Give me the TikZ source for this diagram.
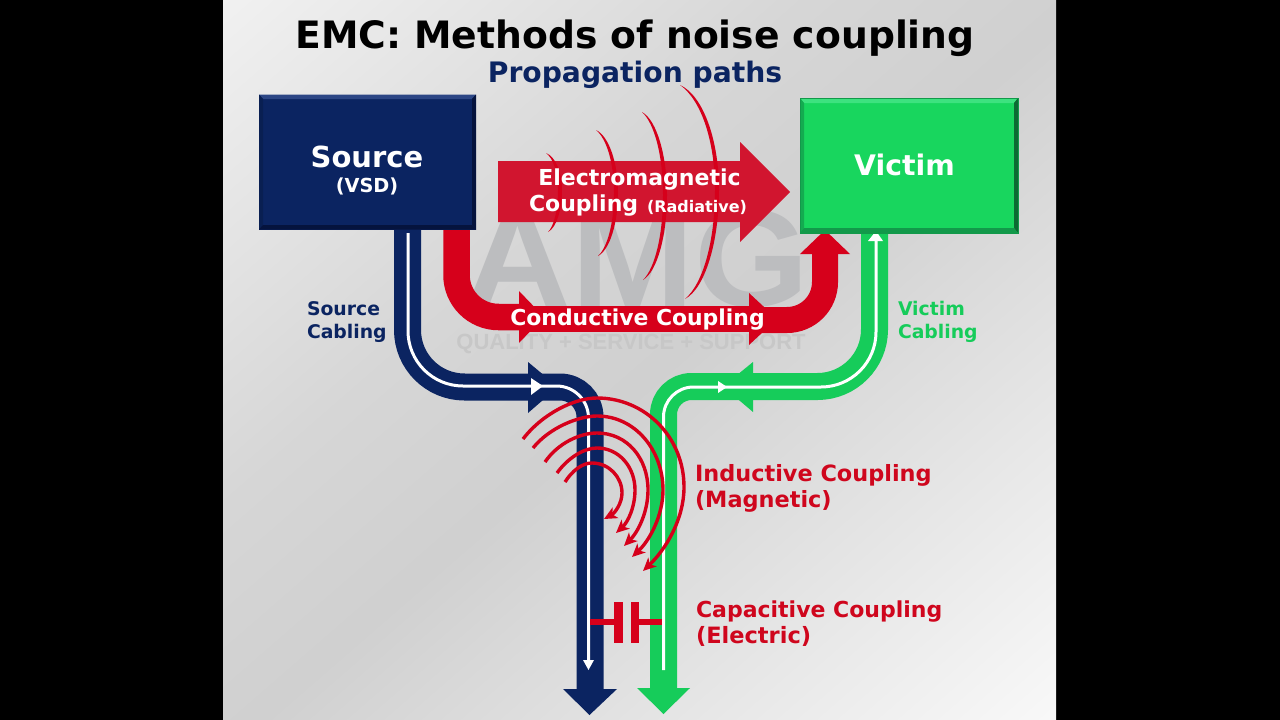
\documentclass[tikz,border=0pt]{standalone}
\usepackage{fontspec}
\setmainfont{DejaVu Sans}
\newfontfamily\wmfont{Liberation Sans}
\usetikzlibrary{arrows.meta,calc}
\definecolor{navy}{HTML}{0B2461}
\definecolor{navyL}{HTML}{2C4685}
\definecolor{navyD}{HTML}{05133D}
\definecolor{grn}{HTML}{18D65E}
\definecolor{grnB}{HTML}{16CC5A}
\definecolor{grnL}{HTML}{3DE27F}
\definecolor{grnD}{HTML}{12994A}
\definecolor{grnDD}{HTML}{0C6A33}
\definecolor{crim}{HTML}{D1152F}
\definecolor{red1}{HTML}{D6001B}
\definecolor{redT}{HTML}{CF061D}
\definecolor{wm}{HTML}{BCBDBF}
\pgfdeclareverticalshading{bgsh}{100bp}{rgb(0bp)=(.945,.945,.945); rgb(14.5bp)=(.945,.945,.945); rgb(28.7bp)=(.885,.885,.885); rgb(39.4bp)=(.84,.84,.84); rgb(51.4bp)=(.815,.815,.815); rgb(58.5bp)=(.85,.85,.85); rgb(71.3bp)=(.91,.91,.91); rgb(85.5bp)=(.975,.975,.975); rgb(100bp)=(.975,.975,.975)}
\newcommand{\fsz}[1]{\fontsize{#1}{#1}\selectfont\bfseries}
% crescent: start, middle, end, thickness
\newcommand{\cres}[7]{\fill[arccol] (#1,#2) .. controls ({#1+0.6*(#3-#1)},{#2+0.1*(#4-#2)}) and (#3,{#4-0.47*(#4-#2)}) .. (#3,#4) .. controls (#3,{#4+0.47*(#6-#4)}) and ({#5+0.6*(#3-#5)},{#6-0.1*(#6-#4)}) .. (#5,#6) .. controls ({#5+0.6*(#3-#7-#5)},{#6-0.14*(#6-#4)}) and ({#3-#7},{#4+0.47*(#6-#4)}) .. ({#3-#7},#4) .. controls ({#3-#7},{#4-0.47*(#4-#2)}) and ({#1+0.6*(#3-#7-#1)},{#2+0.14*(#4-#2)}) .. cycle;}
\tikzset{
  arccol/.style={color=red1},
  band/.style={line width=27pt},
  wline/.style={draw=white,line width=3pt},
  lab/.style={anchor=base,inner sep=0pt,outer sep=0pt},
  labw/.style={anchor=base west,inner sep=0pt,outer sep=0pt},
  ind/.style={draw=red1,line width=3.4pt,-{Stealth[length=13pt,width=12pt,inset=3.5pt]}},
}
\begin{document}
\begin{tikzpicture}[x=1pt,y=-1pt]
\useasboundingbox (0,0) rectangle (1280,720);
\fill[black] (0,0) rectangle (1280,720);
\shade[shading=bgsh,shading angle=221] (223,0) rectangle (1056,720);
% watermark
\node[lab,text=wm,xscale=1.07] (wmA) at (637,306) {\wmfont\fontsize{138}{138}\selectfont\bfseries AMG};
\node[lab,text=black!22] (wmB) at (631,349) {\wmfont\fontsize{22}{22}\selectfont\bfseries QUALITY + SERVICE + SUPPORT};
% anchors
\coordinate (nA) at (407.5,228);
\coordinate (nB) at (407.5,387);
\coordinate (nC) at (535,387);
\coordinate (nD) at (590,387);
\coordinate (nE) at (590,692);
\coordinate (gA) at (874.5,231);
\coordinate (gB) at (874.5,386.5);
\coordinate (gC) at (740,386.5);
\coordinate (gD) at (663.5,386.5);
\coordinate (gE) at (663.5,692);
% navy band
\draw[band,navy,rounded corners=57pt] (nA) -- (nB) -- (nC);
\draw[band,navy,rounded corners=30pt] (nC) -- (nD) -- (nE);
\fill[navy] (528,362) -- (558,387) -- (528,413) -- cycle;
\fill[navy] (563,689) -- (617,689) -- (589.5,715) -- cycle;
% green band
\draw[band,grnB,rounded corners=57pt] (gA) -- (gB) -- (gC);
\draw[band,grnB,rounded corners=28pt] (gC) -- (gD) -- (gE);
\fill[grnB] (753,362) -- (723,386.5) -- (753,412) -- cycle;
\fill[grnB] (637,688) -- (690,688) -- (663.5,714) -- cycle;
% white lines navy
\draw[wline,rounded corners=55pt] (408,233) -- (408,386) -- (535,386);
\draw[wline,rounded corners=32pt] (535,386) -- (588.5,386) -- (588.5,662);
\fill[white] (531,378) -- (543,386) -- (531,395) -- cycle;
\fill[white] (583,660) -- (594,660) -- (588.5,670) -- cycle;
% white lines green
\draw[wline,rounded corners=55pt] (876,238) -- (876,387) -- (722,387);
\draw[wline,rounded corners=30pt] (722,387) -- (663.5,387) -- (663.5,670);
\fill[white] (718,381) -- (727,387) -- (718,393) -- cycle;
\fill[white] (868,241) -- (876,231) -- (883,241) -- cycle;
% conductive
\draw[line width=26.5pt,red1,rounded corners=42pt] (456.5,225) -- (456.5,317) -- (530,317);
\fill[red1] (519,291) -- (544,317) -- (519,343) -- cycle;
\fill[red1] (525,306) rectangle (755,332);
\fill[red1] (749,293) -- (777,319) -- (749,345) -- cycle;
\draw[line width=26pt,red1,rounded corners=38pt] (755,320) -- (825,320) -- (825,250);
\fill[red1] (800,254) -- (825,230) -- (850,254) -- cycle;
% boxes
\node[draw=none,fill=navy,minimum width=217pt,minimum height=135pt,inner sep=0pt] (src) at (367.5,162) {};
\fill[navyL] (259,94.5) -- (476,94.5) -- (472,99) -- (263,99) -- cycle;
\fill[navy!85!black] (259,94.5) -- (263,99) -- (263,225) -- (259,229.5) -- cycle;
\fill[navyD] (476,94.5) -- (472,99) -- (472,225) -- (476,229.5) -- cycle;
\fill[navyD] (259,229.5) -- (263,225) -- (472,225) -- (476,229.5) -- cycle;
\node[draw=none,fill=grn,minimum width=218pt,minimum height=135pt,inner sep=0pt] (vic) at (909,165.5) {};
\fill[grnL] (800,98) -- (1018,98) -- (1014,103) -- (804,103) -- cycle;
\fill[grnD!70!grn] (800,98) -- (804,103) -- (804,228) -- (800,233) -- cycle;
\fill[grnDD] (1018,98) -- (1014,103) -- (1014,228) -- (1018,233) -- cycle;
\fill[grnD] (800,233) -- (804,228) -- (1014,228) -- (1018,233) -- cycle;
\draw[grnD,line width=.6pt] (vic.south west) rectangle (vic.north east);
% EM arrow
\fill[crim] (498,161) -- (740,161) -- (740,142) -- (790,192) -- (740,242) -- (740,222) -- (498,222) -- cycle;
% crescents
\cres{546}{153}{562}{190}{548}{232}{4}
\cres{596}{130}{618}{193}{598}{256}{4}
\cres{642}{112}{667}{195}{643}{280}{4}
\cres{680}{85}{719}{190}{685}{299}{4}
% inductive arcs
\draw[ind] (523,439) .. controls (543,413) and (575,398) .. (597,398) .. controls (645,398) and (684,437) .. (684,487) .. controls (684,520) and (665,550) .. (643,571);
\draw[ind] (533,448) .. controls (549,428) and (578,416) .. (597,416) .. controls (635,416) and (663,450) .. (663,490) .. controls (663,515) and (650,540) .. (632,557);
\draw[ind] (545,462) .. controls (558,443) and (580,433) .. (597,433) .. controls (627,433) and (648,458) .. (648,490) .. controls (648,512) and (638,532) .. (624,546);
\draw[ind] (557,473) .. controls (567,459) and (583,448) .. (597,448) .. controls (619,448) and (635,467) .. (635,490) .. controls (635,507) and (628,522) .. (616,533);
\draw[ind] (565,482) .. controls (572,471) and (582,463) .. (592,463) .. controls (609,463) and (622,477) .. (622,493) .. controls (622,503) and (615,513) .. (604,519);
% capacitor
\coordinate (capL) at (590,622);
\coordinate (capR) at (662,622);
\fill[red1] (614,602) rectangle (623,643);
\fill[red1] (631,602) rectangle (639,643);
\draw[red1,line width=6pt] (capL) -- (614,622);
\draw[red1,line width=6pt] (639,622) -- (capR);
% texts
\node[lab,text=black] (title) at (635,48) {\fsz{37.7}EMC: Methods of noise coupling};
\node[lab,text=navy] (sub) at (635,82) {\fsz{28.2}Propagation paths};
\node[lab,text=white] (t1) at (367,167) {\fsz{29}Source};
\node[lab,text=white] (t2) at (367,192) {\fsz{19.3}(VSD)};
\node[lab,text=white] (t3) at (904.5,175) {\fsz{28.3}Victim};
\node[lab,text=white] (t4) at (639.5,185) {\fsz{22}Electromagnetic};
\node[labw,text=white] (t5) at (529,211) {\fsz{22}Coupling};
\node[labw,text=white] (t6) at (647,212) {\fsz{16}(Radiative)};
\node[lab,text=white] (t7) at (637.5,325) {\fsz{21.9}Conductive Coupling};
\node[labw,text=navy] (t8) at (307,315) {\fsz{18.8}Source};
\node[labw,text=navy] (t9) at (307,338) {\fsz{18.8}Cabling};
\node[labw,text=grnB] (t10) at (898,315) {\fsz{18.8}Victim};
\node[labw,text=grnB] (t11) at (898,338) {\fsz{18.8}Cabling};
\node[labw,text=redT] (t12) at (695,481) {\fsz{22.4}Inductive Coupling};
\node[labw,text=redT] (t13) at (695,507) {\fsz{22.4}(Magnetic)};
\node[labw,text=redT] (t14) at (696,617) {\fsz{22}Capacitive Coupling};
\node[labw,text=redT] (t15) at (696,643) {\fsz{22.5}(Electric)};
\end{tikzpicture}
\end{document}
